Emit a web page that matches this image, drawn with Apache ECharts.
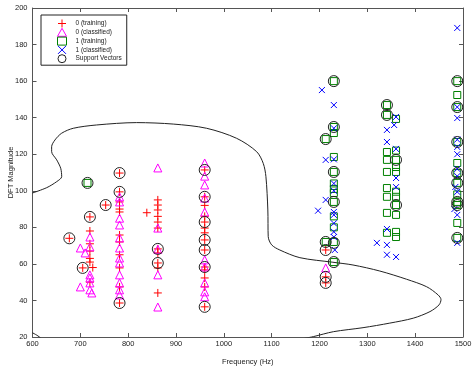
<!DOCTYPE html>
<html><head><meta charset="utf-8">
<script src="https://cdn.jsdelivr.net/npm/echarts@6/dist/echarts.min.js"></script>
<style>html,body{margin:0;padding:0;background:#fff}#c{width:474px;height:369px}</style>
</head><body><div id="c"></div>
<script>
// ---- data ----
const legendNames = ['0 (training)', '0 (classified)', '1 (training)', '1 (classified)', 'Support Vectors'];
const xTicks = [600, 700, 800, 900, 1000, 1100, 1200, 1300, 1400, 1500];
const yTicks = [20, 40, 60, 80, 100, 120, 140, 160, 180, 200];

const class0Training = [
  [677,74],[705,57.8],[720,85.7],[720,78],[720,71],[720,67],[720,63],[720,61],[726,58],[720,50],
  [753,92.2],
  [782,109.7],[782,99.4],[782,93.9],[782,90],[782,88.4],[782,75.8],[782,72],[782,65],[782,57.8],[782,47.4],[782,38.6],
  [839,88],
  [862,95],[862,92.2],[862,89.5],[862,86],[862,82.9],[862,79.6],[862,68.2],[862,66],[862,60.5],[862,57.8],[862,44.1],
  [960,111.4],[960,96.7],[960,92],[960,86],[960,82.9],[960,79.6],[960,77],[960,73.1],[960,67.6],[960,58.3],[960,56.7],[960,52.3],[960,47.4],[960,36.5],
  [1213,67.6],[1213,52.9],[1213,49.6]
];
const class0Classified = [
  [700,68.7],[700,47.4],[710,66],[720,74.7],[720,69.3],[720,54],[720,52.3],[720,49.6],[720,45.8],[724,44.1],
  [782,96.7],[782,93.9],[782,85],[782,81.3],[782,74.2],[782,68.7],[782,63.2],[782,60.5],[782,54],[782,49.6],[782,45.8],[782,43],
  [862,112.5],[862,79.6],[862,68],[862,54],[862,36.4],
  [960,115.2],[960,108],[960,103.2],[960,96],[960,88.4],[960,62.2],[960,58.3],[960,49.6],[960,44.7],[960,42],
  [1213,57.8]
];
const class1Training = [
  [715,104.3],
  [1230,160],[1230,134.9],[1230,131.6],[1213,128.3],[1230,118.5],[1230,110.3],[1230,104],[1230,101],[1230,98.8],[1230,93.9],[1230,86],[1230,80],[1230,72],[1213,72],[1230,61],
  [1341,146.9],[1341,141.5],[1341,121.2],[1341,116.9],[1341,110.3],[1341,101.5],[1341,96.7],[1341,87.9],[1341,77],
  [1360,139.3],[1360,122],[1360,116.9],[1360,113],[1360,110.3],[1360,99.5],[1360,96.7],[1360,92.2],[1360,86.8],[1360,77.5],[1360,74.7],
  [1488,160],[1488,152.4],[1488,145.8],[1488,126.7],[1488,115.2],[1488,109.7],[1488,104.3],[1488,98],[1488,93.9],[1488,92.2],[1488,82.4],[1488,74.2]
];
const class1Classified = [
  [1205,155.1],[1230,146.9],[1230,134.2],[1213,116.9],[1230,117.2],[1230,104],[1230,100],[1213,95],[1197,89.1],[1230,88.4],[1230,86.8],[1230,82.2],[1230,77.6],[1230,74.7],[1232,67.6],
  [1360,140.4],[1356,136],[1341,133.3],[1341,126.7],[1360,122.9],[1360,107],[1360,102],[1341,79.1],[1320,71.5],[1341,70.4],[1341,65],[1360,63.8],
  [1488,189.1],[1488,145.8],[1488,139.8],[1488,128],[1488,124],[1488,120],[1488,112],[1488,108],[1484,102.1],[1488,99.4],[1482,90],[1488,86.8],[1488,71.5]
];
const supportVectors = [
  [677,74],[705,57.8],[720,85.7],[715,104.3],[753,92.2],[782,109.7],[782,99.4],[782,38.6],
  [862,68.2],[862,60.5],
  [960,111.4],[960,96.7],[960,82.9],[960,73.1],[960,67.6],[960,58.3],[960,36.5],
  [1230,160],[1230,134.9],[1213,128.3],[1230,110.3],[1230,93.9],[1213,72],[1230,71.5],[1213,67.6],[1230,61],[1213,52.9],[1213,49.6],
  [1341,146.9],[1341,141.5],[1360,116.9],[1360,92.2],
  [1488,160],[1488,145.8],[1488,126.7],[1488,109.7],[1488,104.3],[1488,93.9],[1488,92.2],[1488,74.2]
];
const boundary = [
  [600,98.8],[629.7,101.7],[650.6,105],[661,107.7],[659,112.3],[650.6,116.9],[640,121.4],[640,124.1],[647,127.8],
  [661,131.5],[685.3,134.2],[734,136],[817.8,137.3],[894.3,136.5],[964,134.2],[1026.8,128.7],[1068.6,121.4],
  [1082.4,115],[1088,107.7],[1092,89.5],[1092.8,74.9],[1100,70.4],[1117,67.6],[1159,63.4],[1228,60.9],[1270,59.4],
  [1326,56.1],[1382,51.6],[1424,47.5],[1448,43],[1454,40.5],[1450,37.6],[1431,33.9],[1396,30.3],[1347,27.6],
  [1291,25.1],[1229,22.9],[1187,20.2],[1160,18.8]
];
const boundaryCorner = [[600,22.3],[609,21],[617,19.5]];

// ---- chart ----
const PLUS = 'path://M5,0L5,10M0,5L10,5';
const CROSS = 'path://M0,0L10,10M10,0L0,10';
const font = 'Liberation Sans, Arial, sans-serif';
const chart = echarts.init(document.getElementById('c'), null, {renderer: 'canvas'});
const axisLine = {show: true, lineStyle: {color: '#555', width: 1}};
const axisTick = {show: true, inside: true, length: 4, lineStyle: {color: '#555'}};
function scatter(name, data, symbol, size, color, z) {
  return {name, type: 'scatter', data, symbol, symbolSize: size, symbolKeepAspect: true, z,
    itemStyle: {color: 'none', borderColor: color, borderWidth: 1, opacity: 1},
    emphasis: {disabled: true}, animation: false};
}
chart.setOption({
  backgroundColor: '#fff',
  animation: false,
  grid: {left: 32.5, right: 11, top: 8, bottom: 32, containLabel: false, outerBoundsMode: 'none'},
  legend: {
    data: legendNames, orient: 'vertical', left: 41, top: 15,
    itemWidth: 9, itemHeight: 8, itemGap: -4.2,
    padding: [2, 5, 0, 14],
    borderColor: '#222', borderWidth: 1, backgroundColor: '#fff',
    itemStyle: {borderWidth: 1},
    textStyle: {fontSize: 6.5, fontFamily: font, color: '#222', lineHeight: 8, height: 8, padding: [0, 0, 0, 4]},
    selectedMode: false
  },
  xAxis: [{
    type: 'value', min: 600, max: 1500, interval: 100, position: 'bottom',
    axisLine, axisTick, splitLine: {show: false},
    axisLabel: {fontSize: 7.5, fontFamily: font, color: '#222', margin: 3,
      formatter: v => xTicks.includes(v) ? String(v) : ''},
    name: 'Frequency (Hz)', nameLocation: 'middle', nameGap: 21, nameMoveOverlap: false,
    nameTextStyle: {fontSize: 7.5, fontFamily: font, color: '#222'}
  }, {
    type: 'value', min: 600, max: 1500, interval: 100, position: 'top',
    axisLine, axisTick, axisLabel: {show: false}, splitLine: {show: false}
  }],
  yAxis: [{
    type: 'value', min: 20, max: 200, interval: 20, position: 'left',
    axisLine, axisTick, splitLine: {show: false},
    axisLabel: {fontSize: 7.5, fontFamily: font, color: '#222', margin: 5,
      formatter: v => yTicks.includes(v) ? String(v) : ''},
    name: 'DFT Magnitude', nameLocation: 'middle', nameGap: 18, nameRotate: 90, nameMoveOverlap: false,
    nameTextStyle: {fontSize: 7.5, fontFamily: font, color: '#222'}
  }, {
    type: 'value', min: 20, max: 200, interval: 20, position: 'right',
    axisLine, axisTick, axisLabel: {show: false}, splitLine: {show: false}
  }],
  series: [
    {type: 'line', data: boundary, smooth: 0.3, showSymbol: false, symbol: 'none', clip: true,
      lineStyle: {color: '#222', width: 1}, z: 1, silent: true},
    {type: 'line', data: boundaryCorner, smooth: 0.3, showSymbol: false, symbol: 'none', clip: true,
      lineStyle: {color: '#222', width: 1}, z: 1, silent: true},
    scatter(legendNames[0], class0Training, PLUS, 8, '#ff0000', 3),
    scatter(legendNames[1], class0Classified, 'triangle', 8, '#ff00ff', 3),
    scatter(legendNames[2], class1Training, 'rect', 7, '#008000', 3),
    scatter(legendNames[3], class1Classified, CROSS, 6, '#0000ff', 3),
    scatter(legendNames[4], supportVectors, 'circle', 11, '#222', 4)
  ]
});
</script>
</body></html>
